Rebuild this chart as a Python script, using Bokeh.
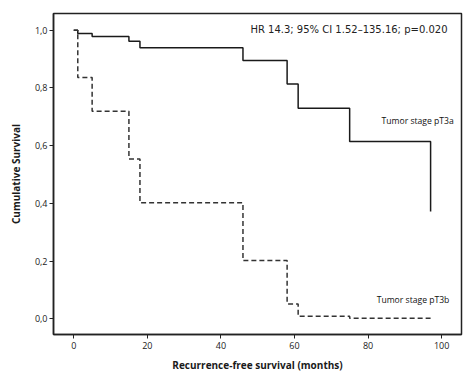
from bokeh.plotting import figure
from bokeh.models import Range1d, FixedTicker, CustomJSTickFormatter, Label
from bokeh.embed import file_html
from bokeh.resources import INLINE

# Data
times = [0, 1.1, 5, 15, 18, 46, 58, 61, 75, 97]
surv_pt3a = [1.0, 0.989, 0.978, 0.962, 0.939, 0.895, 0.814, 0.730, 0.615, 0.372]
surv_pt3b = [1.0, 0.836, 0.719, 0.554, 0.402, 0.202, 0.052, 0.009, 0.002, 0.002]
x_ticks = [0, 20, 40, 60, 80, 100]
y_ticks = [0.0, 0.2, 0.4, 0.6, 0.8, 1.0]

FONT = "Open Sans"

p = figure(width=466, height=379, output_backend="svg", toolbar_location=None,
           x_range=Range1d(-5.5, 105.4), y_range=Range1d(-0.054, 1.058),
           min_border_left=53, min_border_right=5, min_border_top=13, min_border_bottom=45)

p.grid.visible = False
p.outline_line_color = "#222222"
p.outline_line_width = 1.5
p.background_fill_color = "white"
p.border_fill_color = "white"

for ax in (p.xaxis[0], p.yaxis[0]):
    ax.axis_line_color = "#222222"
    ax.axis_line_width = 1.5
    ax.major_tick_line_color = "#222222"
    ax.major_tick_line_width = 1
    ax.major_tick_out = 4
    ax.major_tick_in = 0
    ax.minor_tick_line_color = None
    ax.major_label_text_font = FONT
    ax.major_label_text_font_size = "9px"
    ax.major_label_text_color = "#1a1a1a"
    ax.axis_label_text_font = FONT
    ax.axis_label_text_font_style = "bold"
    ax.axis_label_text_color = "#1a1a1a"
    ax.axis_label_text_font_size = "10px"

p.xaxis.ticker = FixedTicker(ticks=x_ticks)
p.yaxis.ticker = FixedTicker(ticks=y_ticks)
p.yaxis.formatter = CustomJSTickFormatter(code="return tick.toFixed(1).replace('.', ',');")
p.xaxis.axis_label = "Recurrence-free survival (months)"
p.yaxis.axis_label = "Cumulative Survival"
p.xaxis.major_label_standoff = 3
p.yaxis.major_label_standoff = 2
p.xaxis.axis_label_standoff = 6
p.yaxis.axis_label_standoff = 9

p.step(times, surv_pt3a, mode="after", line_color="#1a1a1a", line_width=1.5)
p.step(times, surv_pt3b, mode="after", line_color="#333333", line_width=1.5, line_dash="5 3")

p.add_layout(Label(x=101.6, y=1.001, text="HR 14.3; 95% CI 1.52\u2013135.16; p=0.020",
                   text_align="right", text_baseline="middle", text_font="DejaVu Sans",
                   text_font_size="10px", text_color="#222222"))
p.add_layout(Label(x=103.3, y=0.685, text="Tumor stage pT3a",
                   text_align="right", text_baseline="middle", text_font=FONT,
                   text_font_size="8.6px", text_color="#111111"))
p.add_layout(Label(x=102.1, y=0.067, text="Tumor stage pT3b",
                   text_align="right", text_baseline="middle", text_font=FONT,
                   text_font_size="8.6px", text_color="#111111"))

open("out.html", "w").write(file_html(p, INLINE))
